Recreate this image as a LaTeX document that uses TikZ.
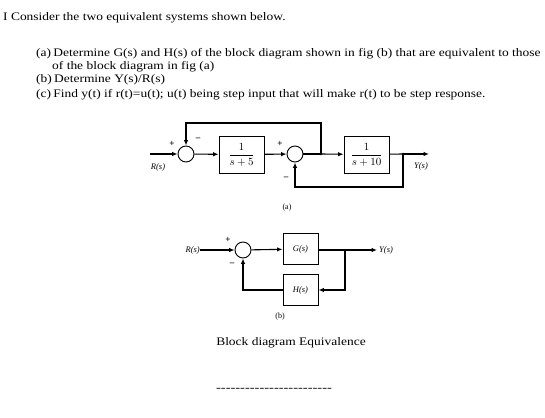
\documentclass[tikz,border=0pt]{standalone}
\usepackage{graphicx}
\usepackage{fontspec}
\setmainfont{Liberation Serif}
\newfontfamily\nolig{Liberation Serif}
\newcommand{\widetxt}[1]{\scalebox{1.17}[1]{#1}}
\usetikzlibrary{arrows.meta}
\begin{document}
\begin{tikzpicture}[x=1pt,y=-1pt,
  txt/.style={anchor=base west,inner sep=0pt,font=\fontsize{11.5}{13}\selectfont},
  blk/.style={draw,line width=0.9pt,minimum width=45pt,minimum height=37pt,inner sep=0pt,font=\fontsize{10.5}{12}\selectfont},
  blkb/.style={draw,line width=0.9pt,minimum width=35pt,minimum height=31pt,inner sep=0pt,font=\fontsize{8.5}{10}\selectfont\itshape},
  sumc/.style={draw,circle,line width=0.9pt,minimum size=16pt,inner sep=0pt},
  sig/.style={line width=1.1pt},
  arr/.style={line width=1.1pt,-{Latex[length=5.5pt,width=4.5pt]}},
  lbl/.style={font=\fontsize{8.5}{10}\selectfont\itshape,inner sep=0pt},
  sg/.style={font=\fontsize{9}{10}\selectfont\bfseries,inner sep=0pt},
  figcap/.style={font=\fontsize{8}{9}\selectfont,inner sep=0pt}]
\useasboundingbox (0,0) rectangle (545,417);
% text
\node[txt] (t0) at (3,21) {\widetxt{I Consider the two equivalent systems shown below.}};
\node[txt] (t1) at (36,57) {\widetxt{(a)\,Determine G(s) and H(s) of the block diagram shown in fig (b) that are equivalent to those}};
\node[txt] (t2) at (52,70) {\widetxt{of the block diagram in fig (a)}};
\node[txt] (t3) at (36,83) {\widetxt{(b)\,Determine Y(s)/R(s)}};
\node[txt] (t4) at (36,98) {\widetxt{(c)\,Find y(t) if r(t)=u(t); u(t) being step input that will make r(t) to be step response.}};
% ---------- figure (a)
\coordinate (in1) at (150,154);
\node[sumc] (s1) at (186,154) {};
\node[blk] (b1) at (241.5,154.5) {$\displaystyle\frac{1}{s+5}$};
\node[sumc] (s2) at (295,154) {};
\coordinate (p1) at (321,154);
\node[blk] (b2) at (366.5,154.5) {$\displaystyle\frac{1}{s+10}$};
\coordinate (p2) at (403,154);
\coordinate (out1) at (429,154);
\draw[arr] (in1) -- (s1);
\draw[arr] (s1) -- (b1);
\draw[arr] (b1) -- (s2);
\draw[sig] (s2) -- (p1);
\draw[arr] (p1) -- (b2);
\draw[sig] (b2) -- (p2);
\draw[arr] (p2) -- (out1);
\draw[arr] (p1) -- (321,123) -| (s1.north);
\draw[arr] (p2) -- (403,187) -| (s2.south);
\fill (p1) circle (1.3pt);
\fill (p2) circle (1.3pt);
\node[lbl] (lr1) at (158,167) {R(s)};
\node[lbl] (ly1) at (421,166) {Y(s)};
\node[sg] (pa1) at (172,144) {+};
\node[sg] (ma1) at (198,139) {--};
\node[sg] (pa2) at (280,144) {+};
\node[sg] (ma2) at (286,178) {--};
\node[figcap] (ca) at (287,208) {(a)};
% ---------- figure (b)
\node[lbl,anchor=east] (lr2) at (200,250) {R(s)};
\node[sumc] (s3) at (243,250) {};
\node[blkb] (g) at (300.5,249) {G(s)};
\node[blkb] (h) at (300.5,290) {H(s)};
\coordinate (p3) at (345,250);
\coordinate (out2) at (377,250);
\draw[arr] (lr2.east) -- (s3);
\draw[arr] (s3) -- (g);
\draw[sig] (g.east |- p3) -- (p3);
\draw[arr] (p3) -- (out2);
\draw[arr] (p3) |- (h);
\draw[arr] (h) -| (s3.south);
\fill (p3) circle (1.1pt);
\node[lbl,anchor=west] (ly2) at (379,250) {Y(s)};
\node[sg] (pb) at (228,240) {+};
\node[sg] (mb) at (232,264) {--};
\node[figcap] (cb) at (280,317) {(b)};
% caption
\node[txt,anchor=base] (cap1) at (291,345) {\widetxt{Block diagram Equivalence}};
\node[txt,anchor=base] (dash) at (274,391) {\scalebox{1.26}[1]{\nolig ------------------------}};
\end{tikzpicture}
\end{document}
